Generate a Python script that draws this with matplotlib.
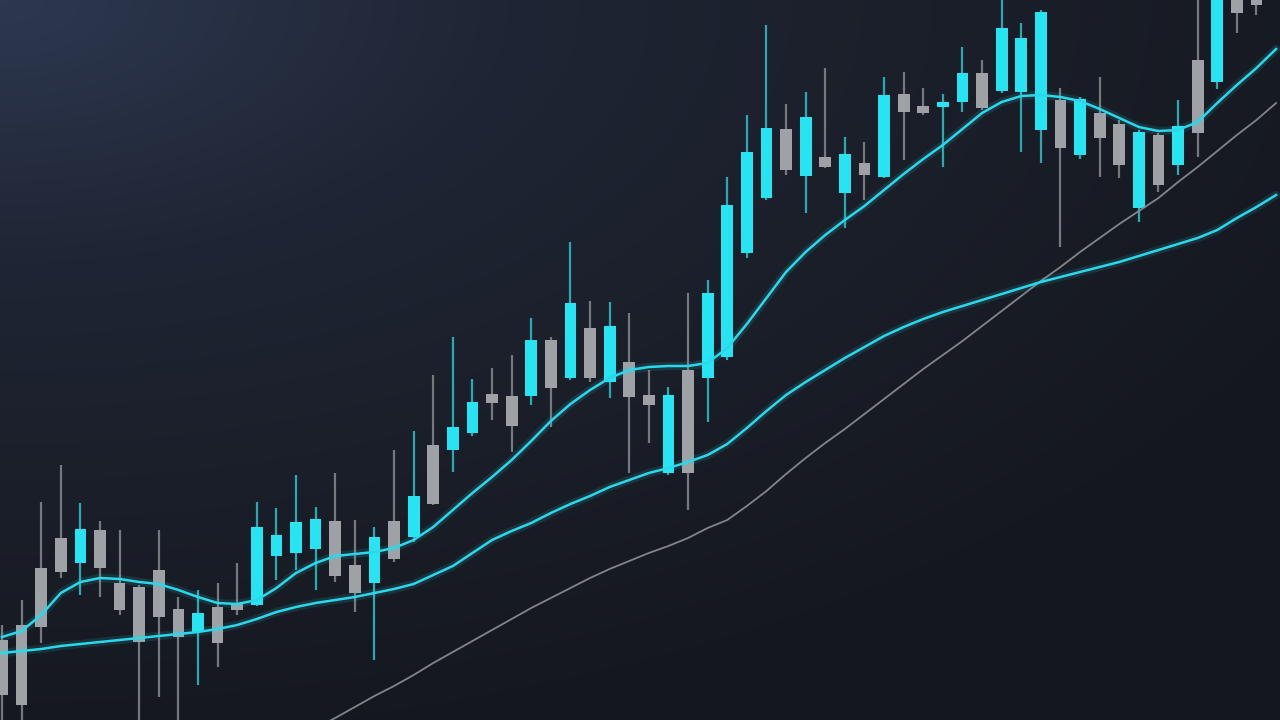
import numpy as np
import matplotlib.pyplot as plt
from matplotlib.colors import LinearSegmentedColormap

# candle data (price units, one candle per session)
opens = [80, 95, 152, 182, 157, 190, 137, 133, 150, 111, 88, 113, 116, 115, 164, 167, 171, 199, 155, 137,
         199, 183, 275, 270, 287, 326, 324, 324, 380, 342, 392, 338, 358, 325, 247, 350, 342, 363, 467, 522,
         591, 544, 563, 527, 557, 543, 626, 614, 613, 618, 647, 629, 628, 590, 620, 565, 607, 596, 512, 585,
         555, 660, 638, 725, 725]
closes = [25, 15, 93, 148, 191, 152, 110, 78, 103, 83, 107, 77, 110, 193, 185, 198, 201, 144, 127, 183,
          161, 224, 216, 293, 318, 317, 294, 380, 332, 417, 342, 394, 323, 315, 325, 247, 427, 515, 568, 592,
          550, 603, 553, 566, 545, 625, 608, 607, 618, 647, 612, 692, 682, 708, 572, 621, 582, 555, 588, 535,
          594, 587, 730, 707, 715]
highs = [95, 120, 218, 255, 217, 199, 190, 135, 190, 123, 130, 137, 157, 218, 212, 245, 213, 247, 200, 193,
         270, 289, 345, 383, 341, 352, 365, 402, 383, 478, 419, 418, 407, 350, 333, 427, 440, 543, 605, 695,
         616, 628, 652, 583, 578, 643, 648, 632, 626, 673, 660, 730, 697, 710, 632, 623, 643, 600, 590, 587,
         620, 730, 740, 740, 740]
lows = [-10, -10, 77, 142, 125, 123, 105, -10, 23, -10, 35, 53, 105, 114, 140, 150, 130, 138, 108, 60,
        158, 178, 215, 248, 284, 300, 268, 315, 293, 340, 338, 322, 247, 277, 245, 210, 298, 360, 462, 520,
        545, 507, 552, 492, 520, 542, 560, 605, 553, 608, 610, 627, 568, 557, 473, 561, 543, 542, 498, 528,
        545, 563, 631, 687, 705]

# moving averages (one value per session, last one is beyond the final candle)
ma_fast = [83, 89, 105, 127, 138, 142, 141, 138, 136, 130, 123, 117, 116, 120, 132, 147, 157, 164, 166, 168,
           172, 180, 193, 210, 227, 243, 260, 279, 299, 316, 330, 342, 350, 353, 354, 354, 357, 372, 396, 422,
           448, 468, 485, 500, 514, 530, 546, 561, 575, 591, 607, 618, 624, 625, 623, 619, 611, 602, 593, 589,
           590, 598, 617, 635, 652, 671]
ma_slow = [67, 69, 71, 74, 76, 78, 80, 82, 84, 86, 88, 91, 95, 101, 108, 113, 117, 120, 123, 127,
           131, 136, 145, 154, 167, 180, 189, 197, 207, 216, 224, 233, 240, 247, 252, 258, 265, 276, 292, 309,
           325, 338, 350, 362, 373, 384, 393, 401, 408, 414, 420, 426, 432, 438, 443, 448, 453, 458, 464, 470,
           476, 482, 490, 502, 513, 525]
ma_long = [np.nan] * 15 + [-18, -8, 2, 13, 24,
           34, 45, 57, 68, 79, 90, 101, 112, 122, 132, 142, 151, 159, 167, 174, 182, 192, 200, 214, 229,
           246, 262, 277, 291, 306, 321, 336, 351, 365, 379, 394, 409, 424, 439, 453, 468, 482, 496, 509, 522,
           538, 553, 569, 585, 600, 617]

CYAN = "#26e4f2"
CYAN_WICK = "#2aa9b3"
GREY = "#9ea1a5"
GREY_WICK = "#75797e"

fig = plt.figure(figsize=(12.8, 7.2), dpi=100)
ax = fig.add_axes([0, 0, 1, 1])

# background gradient, lighter towards the top-left corner
gx, gy = np.meshgrid(np.linspace(0, 1, 256), np.linspace(0, 1, 144))
dist = np.sqrt((gx * 1.1) ** 2 + (gy * 1.2) ** 2)
bg_cmap = LinearSegmentedColormap.from_list("bg", ["#2d3850", "#1f2534", "#1a1e28", "#14171e"])
ax.imshow(np.clip(dist / 1.3, 0, 1), cmap=bg_cmap, extent=[-0.102, 65.2, 0, 720],
          aspect="auto", zorder=0, interpolation="bicubic")

x = np.arange(len(opens))
o = np.array(opens)
c = np.array(closes)
up = c >= o

# wicks
ax.vlines(x[up], np.array(lows)[up], np.array(highs)[up], color=CYAN_WICK, lw=1.6, zorder=2)
ax.vlines(x[~up], np.array(lows)[~up], np.array(highs)[~up], color=GREY_WICK, lw=1.6, zorder=2)

# bodies
body_lo = np.minimum(o, c)
body_h = np.maximum(np.abs(c - o), 4)
ax.bar(x[up], body_h[up], bottom=body_lo[up], width=0.6, color=CYAN, zorder=3)
ax.bar(x[~up], body_h[~up], bottom=body_lo[~up], width=0.6, color=GREY, zorder=3)

# moving averages with a soft glow
xm = np.arange(len(ma_fast))
ax.plot(np.arange(len(ma_long)), ma_long, color="#8d9196", lw=1.3, alpha=0.9, zorder=4)
for ma in (ma_fast, ma_slow):
    ax.plot(xm, ma, color=CYAN, lw=6, alpha=0.12, zorder=4, solid_capstyle="round")
    ax.plot(xm, ma, color="#2ad8ec", lw=1.8, zorder=5, solid_joinstyle="round")

ax.set_xlim(-0.102, 65.2)
ax.set_ylim(0, 720)
ax.axis("off")

fig.savefig("out.png", dpi=100)
